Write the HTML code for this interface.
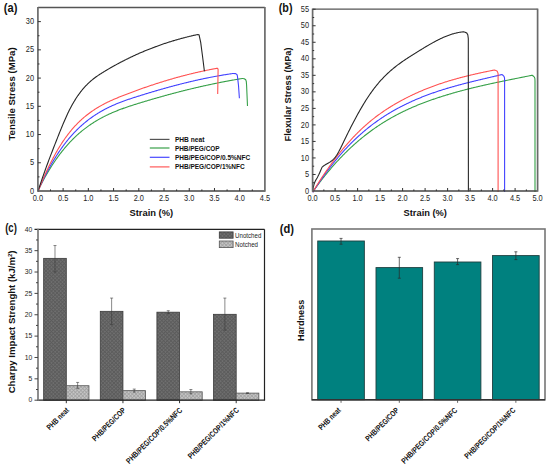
<!DOCTYPE html>
<html><head><meta charset="utf-8"><style>
html,body{margin:0;padding:0;background:#fff;}
svg{display:block;}
</style></head><body>
<svg width="550" height="467" viewBox="0 0 550 467">
<rect width="550" height="467" fill="#fff"/>
<g font-family='"Liberation Sans", sans-serif'>
<path transform="translate(0,0.50)" d="M38.00,190.06 L38.67,188.71 L39.33,187.38 L40.00,186.06 L40.66,184.76 L41.33,183.47 L42.00,182.21 L42.66,180.95 L43.33,179.72 L44.00,178.49 L44.66,177.29 L45.33,176.10 L45.99,174.92 L46.66,173.76 L47.33,172.62 L47.99,171.49 L48.66,170.37 L49.32,169.27 L49.99,168.18 L50.66,167.11 L51.32,166.05 L51.99,165.01 L52.65,163.98 L53.32,162.97 L53.99,161.96 L54.65,160.97 L55.32,160.00 L55.99,159.04 L56.65,158.09 L57.32,157.15 L57.98,156.23 L58.65,155.32 L59.32,154.42 L59.98,153.53 L60.65,152.66 L61.31,151.80 L61.98,150.95 L62.65,150.11 L63.31,149.29 L63.98,148.48 L64.64,147.67 L65.31,146.88 L65.98,146.10 L66.64,145.34 L67.31,144.58 L67.98,143.83 L68.64,143.10 L69.31,142.37 L69.97,141.66 L70.64,140.96 L71.31,140.26 L71.97,139.58 L72.64,138.90 L73.30,138.24 L73.97,137.59 L74.64,136.94 L75.30,136.31 L75.97,135.68 L76.64,135.07 L77.30,134.46 L77.97,133.86 L78.63,133.27 L79.30,132.69 L79.97,132.12 L80.63,131.55 L81.30,131.00 L81.96,130.45 L82.63,129.91 L83.30,129.37 L83.96,128.85 L84.63,128.33 L85.29,127.82 L85.96,127.32 L86.63,126.83 L87.29,126.34 L87.96,125.86 L88.63,125.38 L89.29,124.92 L89.96,124.46 L90.62,124.00 L91.29,123.55 L91.96,123.11 L92.62,122.67 L93.29,122.24 L93.95,121.82 L94.62,121.40 L95.29,120.99 L95.95,120.58 L96.62,120.18 L97.29,119.79 L97.95,119.40 L98.62,119.01 L99.28,118.63 L99.95,118.26 L100.62,117.89 L101.28,117.53 L101.95,117.17 L102.61,116.82 L103.28,116.47 L103.95,116.13 L104.61,115.79 L105.28,115.45 L105.94,115.12 L106.61,114.80 L107.28,114.47 L107.94,114.16 L108.61,113.85 L109.28,113.54 L109.94,113.23 L110.61,112.93 L111.27,112.64 L111.94,112.34 L112.61,112.05 L113.27,111.77 L113.94,111.49 L114.60,111.21 L115.27,110.93 L115.94,110.66 L116.60,110.39 L117.27,110.13 L117.93,109.87 L118.60,109.61 L119.27,109.35 L119.93,109.10 L120.60,108.85 L121.27,108.60 L121.93,108.36 L122.60,108.11 L123.26,107.87 L123.93,107.63 L124.60,107.40 L125.26,107.17 L125.93,106.93 L126.59,106.71 L127.26,106.48 L127.93,106.25 L128.59,106.03 L129.26,105.81 L129.93,105.59 L130.59,105.37 L131.26,105.15 L131.92,104.94 L132.59,104.72 L133.26,104.51 L133.92,104.30 L134.59,104.09 L135.25,103.88 L135.92,103.67 L136.59,103.46 L137.25,103.25 L137.92,103.05 L138.58,102.84 L139.25,102.64 L139.92,102.43 L140.58,102.23 L141.25,102.02 L141.92,101.82 L142.58,101.62 L143.25,101.41 L143.91,101.21 L144.58,101.01 L145.25,100.81 L145.91,100.61 L146.58,100.41 L147.24,100.21 L147.91,100.01 L148.58,99.82 L149.24,99.62 L149.91,99.42 L150.57,99.23 L151.24,99.03 L151.91,98.83 L152.57,98.64 L153.24,98.45 L153.91,98.25 L154.57,98.06 L155.24,97.87 L155.90,97.67 L156.57,97.48 L157.24,97.29 L157.90,97.10 L158.57,96.91 L159.23,96.72 L159.90,96.53 L160.57,96.35 L161.23,96.16 L161.90,95.97 L162.57,95.79 L163.23,95.60 L163.90,95.42 L164.56,95.23 L165.23,95.05 L165.90,94.86 L166.56,94.68 L167.23,94.50 L167.89,94.32 L168.56,94.14 L169.23,93.96 L169.89,93.78 L170.56,93.60 L171.22,93.42 L171.89,93.24 L172.56,93.06 L173.22,92.88 L173.89,92.71 L174.56,92.53 L175.22,92.36 L175.89,92.18 L176.55,92.01 L177.22,91.84 L177.89,91.66 L178.55,91.49 L179.22,91.32 L179.88,91.15 L180.55,90.98 L181.22,90.81 L181.88,90.64 L182.55,90.47 L183.21,90.30 L183.88,90.13 L184.55,89.97 L185.21,89.80 L185.88,89.64 L186.55,89.47 L187.21,89.31 L187.88,89.14 L188.54,88.98 L189.21,88.82 L189.88,88.66 L190.54,88.50 L191.21,88.33 L191.87,88.17 L192.54,88.02 L193.21,87.86 L193.87,87.70 L194.54,87.54 L195.21,87.38 L195.87,87.23 L196.54,87.07 L197.20,86.92 L197.87,86.76 L198.54,86.61 L199.20,86.46 L199.87,86.31 L200.53,86.15 L201.20,86.00 L201.87,85.85 L202.53,85.70 L203.20,85.55 L203.86,85.41 L204.53,85.26 L205.20,85.11 L205.86,84.96 L206.53,84.82 L207.20,84.67 L207.86,84.53 L208.53,84.39 L209.19,84.24 L209.86,84.10 L210.53,83.96 L211.19,83.82 L211.86,83.68 L212.52,83.54 L213.19,83.40 L213.86,83.26 L214.52,83.12 L215.19,82.99 L215.86,82.85 L216.52,82.71 L217.19,82.58 L217.85,82.44 L218.52,82.31 L219.19,82.18 L219.85,82.04 L220.52,81.91 L221.18,81.78 L221.85,81.65 L222.52,81.52 L223.18,81.39 L223.85,81.27 L224.51,81.14 L225.18,81.01 L225.85,80.89 L226.51,80.76 L227.18,80.64 L227.85,80.51 L228.51,80.39 L229.18,80.27 L229.84,80.14 L230.51,80.02 L231.18,79.90 L231.84,79.78 L232.51,79.66 L233.17,79.54 L233.84,79.43 L234.51,79.31 L235.17,79.19 L235.84,79.08 L236.50,78.96 L237.17,78.85 L237.84,78.74 L238.50,78.62 L239.17,78.51 L239.84,78.40 L240.50,78.29 L241.17,78.18 L241.83,78.07 L242.50,77.96 L244.30,78.20 L245.70,79.20 L246.30,81.00 L246.60,85.00 L247.50,105.60" fill="none" stroke="#36a048" stroke-width="1.10" stroke-linejoin="round"/>
<path transform="translate(0,0.50)" d="M38.00,190.52 L38.67,189.01 L39.33,187.53 L40.00,186.06 L40.66,184.61 L41.33,183.17 L42.00,181.76 L42.66,180.36 L43.33,178.99 L43.99,177.63 L44.66,176.28 L45.32,174.96 L45.99,173.65 L46.66,172.36 L47.32,171.09 L47.99,169.83 L48.65,168.59 L49.32,167.37 L49.99,166.16 L50.65,164.97 L51.32,163.80 L51.98,162.64 L52.65,161.50 L53.32,160.37 L53.98,159.26 L54.65,158.17 L55.31,157.09 L55.98,156.02 L56.64,154.97 L57.31,153.94 L57.98,152.91 L58.64,151.91 L59.31,150.92 L59.97,149.94 L60.64,148.97 L61.31,148.03 L61.97,147.09 L62.64,146.17 L63.30,145.26 L63.97,144.36 L64.63,143.48 L65.30,142.61 L65.97,141.75 L66.63,140.91 L67.30,140.08 L67.96,139.26 L68.63,138.45 L69.30,137.66 L69.96,136.87 L70.63,136.10 L71.29,135.34 L71.96,134.59 L72.63,133.86 L73.29,133.13 L73.96,132.42 L74.62,131.71 L75.29,131.02 L75.95,130.34 L76.62,129.66 L77.29,129.00 L77.95,128.35 L78.62,127.71 L79.28,127.08 L79.95,126.46 L80.62,125.84 L81.28,125.24 L81.95,124.65 L82.61,124.06 L83.28,123.48 L83.95,122.92 L84.61,122.36 L85.28,121.81 L85.94,121.27 L86.61,120.73 L87.27,120.21 L87.94,119.69 L88.61,119.18 L89.27,118.68 L89.94,118.18 L90.60,117.69 L91.27,117.21 L91.94,116.74 L92.60,116.27 L93.27,115.81 L93.93,115.36 L94.60,114.91 L95.26,114.47 L95.93,114.04 L96.60,113.61 L97.26,113.19 L97.93,112.78 L98.59,112.37 L99.26,111.97 L99.93,111.57 L100.59,111.18 L101.26,110.79 L101.92,110.42 L102.59,110.04 L103.26,109.67 L103.92,109.31 L104.59,108.95 L105.25,108.60 L105.92,108.26 L106.58,107.91 L107.25,107.58 L107.92,107.24 L108.58,106.92 L109.25,106.60 L109.91,106.28 L110.58,105.96 L111.25,105.65 L111.91,105.35 L112.58,105.05 L113.24,104.75 L113.91,104.46 L114.58,104.17 L115.24,103.89 L115.91,103.60 L116.57,103.33 L117.24,103.05 L117.90,102.78 L118.57,102.52 L119.24,102.25 L119.90,101.99 L120.57,101.73 L121.23,101.48 L121.90,101.23 L122.57,100.98 L123.23,100.73 L123.90,100.49 L124.56,100.25 L125.23,100.01 L125.89,99.77 L126.56,99.54 L127.23,99.31 L127.89,99.08 L128.56,98.85 L129.22,98.62 L129.89,98.40 L130.56,98.18 L131.22,97.96 L131.89,97.74 L132.55,97.52 L133.22,97.30 L133.89,97.09 L134.55,96.87 L135.22,96.66 L135.88,96.45 L136.55,96.24 L137.21,96.03 L137.88,95.82 L138.55,95.61 L139.21,95.40 L139.88,95.19 L140.54,94.98 L141.21,94.77 L141.88,94.57 L142.54,94.36 L143.21,94.16 L143.87,93.95 L144.54,93.75 L145.21,93.54 L145.87,93.34 L146.54,93.13 L147.20,92.93 L147.87,92.73 L148.53,92.53 L149.20,92.33 L149.87,92.13 L150.53,91.93 L151.20,91.73 L151.86,91.53 L152.53,91.33 L153.20,91.13 L153.86,90.94 L154.53,90.74 L155.19,90.54 L155.86,90.35 L156.52,90.15 L157.19,89.96 L157.86,89.77 L158.52,89.57 L159.19,89.38 L159.85,89.19 L160.52,89.00 L161.19,88.81 L161.85,88.62 L162.52,88.43 L163.18,88.24 L163.85,88.05 L164.52,87.87 L165.18,87.68 L165.85,87.50 L166.51,87.31 L167.18,87.13 L167.84,86.94 L168.51,86.76 L169.18,86.58 L169.84,86.40 L170.51,86.22 L171.17,86.04 L171.84,85.86 L172.51,85.68 L173.17,85.50 L173.84,85.32 L174.50,85.14 L175.17,84.97 L175.84,84.79 L176.50,84.62 L177.17,84.45 L177.83,84.27 L178.50,84.10 L179.16,83.93 L179.83,83.76 L180.50,83.59 L181.16,83.42 L181.83,83.25 L182.49,83.08 L183.16,82.92 L183.83,82.75 L184.49,82.59 L185.16,82.42 L185.82,82.26 L186.49,82.10 L187.15,81.93 L187.82,81.77 L188.49,81.61 L189.15,81.45 L189.82,81.29 L190.48,81.14 L191.15,80.98 L191.82,80.82 L192.48,80.67 L193.15,80.51 L193.81,80.36 L194.48,80.21 L195.15,80.06 L195.81,79.90 L196.48,79.75 L197.14,79.61 L197.81,79.46 L198.47,79.31 L199.14,79.16 L199.81,79.02 L200.47,78.87 L201.14,78.73 L201.80,78.59 L202.47,78.44 L203.14,78.30 L203.80,78.16 L204.47,78.02 L205.13,77.89 L205.80,77.75 L206.47,77.61 L207.13,77.48 L207.80,77.34 L208.46,77.21 L209.13,77.08 L209.79,76.94 L210.46,76.81 L211.13,76.68 L211.79,76.56 L212.46,76.43 L213.12,76.30 L213.79,76.18 L214.46,76.05 L215.12,75.93 L215.79,75.80 L216.45,75.68 L217.12,75.56 L217.78,75.44 L218.45,75.32 L219.12,75.21 L219.78,75.09 L220.45,74.97 L221.11,74.86 L221.78,74.75 L222.45,74.63 L223.11,74.52 L223.78,74.41 L224.44,74.30 L225.11,74.20 L225.78,74.09 L226.44,73.98 L227.11,73.88 L227.77,73.77 L228.44,73.67 L229.10,73.57 L229.77,73.47 L230.44,73.37 L231.10,73.27 L231.77,73.17 L232.43,73.08 L233.10,72.98 L235.60,73.10 L236.90,74.00 L237.40,75.40 L238.50,85.00 L239.40,97.70" fill="none" stroke="#4242ff" stroke-width="1.10" stroke-linejoin="round"/>
<path transform="translate(0,0.50)" d="M38.00,191.21 L38.67,189.49 L39.33,187.80 L40.00,186.12 L40.66,184.47 L41.33,182.85 L42.00,181.24 L42.66,179.66 L43.33,178.09 L43.99,176.55 L44.66,175.03 L45.33,173.53 L45.99,172.06 L46.66,170.60 L47.32,169.16 L47.99,167.74 L48.66,166.35 L49.32,164.97 L49.99,163.62 L50.65,162.28 L51.32,160.96 L51.99,159.67 L52.65,158.39 L53.32,157.13 L53.99,155.89 L54.65,154.67 L55.32,153.46 L55.98,152.28 L56.65,151.11 L57.32,149.97 L57.98,148.84 L58.65,147.72 L59.31,146.63 L59.98,145.55 L60.65,144.49 L61.31,143.45 L61.98,142.42 L62.64,141.42 L63.31,140.42 L63.98,139.45 L64.64,138.49 L65.31,137.55 L65.97,136.62 L66.64,135.71 L67.31,134.81 L67.97,133.93 L68.64,133.07 L69.30,132.22 L69.97,131.39 L70.64,130.57 L71.30,129.76 L71.97,128.97 L72.63,128.20 L73.30,127.43 L73.97,126.68 L74.63,125.95 L75.30,125.23 L75.96,124.52 L76.63,123.82 L77.30,123.14 L77.96,122.47 L78.63,121.81 L79.29,121.16 L79.96,120.52 L80.63,119.90 L81.29,119.28 L81.96,118.68 L82.62,118.09 L83.29,117.51 L83.96,116.94 L84.62,116.37 L85.29,115.82 L85.96,115.28 L86.62,114.75 L87.29,114.22 L87.95,113.71 L88.62,113.20 L89.29,112.70 L89.95,112.21 L90.62,111.73 L91.28,111.26 L91.95,110.79 L92.62,110.33 L93.28,109.88 L93.95,109.44 L94.61,109.00 L95.28,108.57 L95.95,108.15 L96.61,107.73 L97.28,107.32 L97.94,106.92 L98.61,106.52 L99.28,106.13 L99.94,105.74 L100.61,105.36 L101.27,104.99 L101.94,104.62 L102.61,104.26 L103.27,103.90 L103.94,103.55 L104.60,103.20 L105.27,102.86 L105.94,102.53 L106.60,102.19 L107.27,101.86 L107.93,101.54 L108.60,101.22 L109.27,100.91 L109.93,100.60 L110.60,100.29 L111.26,99.98 L111.93,99.68 L112.60,99.39 L113.26,99.09 L113.93,98.80 L114.60,98.51 L115.26,98.23 L115.93,97.95 L116.59,97.67 L117.26,97.39 L117.93,97.12 L118.59,96.84 L119.26,96.57 L119.92,96.31 L120.59,96.04 L121.26,95.77 L121.92,95.51 L122.59,95.25 L123.25,94.99 L123.92,94.73 L124.59,94.47 L125.25,94.21 L125.92,93.95 L126.58,93.70 L127.25,93.44 L127.92,93.19 L128.58,92.93 L129.25,92.68 L129.91,92.43 L130.58,92.18 L131.25,91.93 L131.91,91.68 L132.58,91.43 L133.24,91.18 L133.91,90.93 L134.58,90.69 L135.24,90.44 L135.91,90.20 L136.57,89.96 L137.24,89.71 L137.91,89.47 L138.57,89.23 L139.24,88.99 L139.90,88.75 L140.57,88.52 L141.24,88.28 L141.90,88.04 L142.57,87.81 L143.24,87.57 L143.90,87.34 L144.57,87.11 L145.23,86.88 L145.90,86.65 L146.57,86.42 L147.23,86.19 L147.90,85.96 L148.56,85.74 L149.23,85.51 L149.90,85.28 L150.56,85.06 L151.23,84.84 L151.89,84.62 L152.56,84.40 L153.23,84.18 L153.89,83.96 L154.56,83.74 L155.22,83.52 L155.89,83.30 L156.56,83.09 L157.22,82.88 L157.89,82.66 L158.55,82.45 L159.22,82.24 L159.89,82.03 L160.55,81.82 L161.22,81.61 L161.88,81.40 L162.55,81.20 L163.22,80.99 L163.88,80.79 L164.55,80.58 L165.21,80.38 L165.88,80.18 L166.55,79.98 L167.21,79.78 L167.88,79.58 L168.54,79.38 L169.21,79.18 L169.88,78.99 L170.54,78.79 L171.21,78.60 L171.88,78.41 L172.54,78.22 L173.21,78.03 L173.87,77.84 L174.54,77.65 L175.21,77.46 L175.87,77.27 L176.54,77.09 L177.20,76.90 L177.87,76.72 L178.54,76.54 L179.20,76.36 L179.87,76.18 L180.53,76.00 L181.20,75.82 L181.87,75.64 L182.53,75.46 L183.20,75.29 L183.86,75.11 L184.53,74.94 L185.20,74.77 L185.86,74.60 L186.53,74.43 L187.19,74.26 L187.86,74.09 L188.53,73.92 L189.19,73.76 L189.86,73.59 L190.52,73.43 L191.19,73.27 L191.86,73.11 L192.52,72.95 L193.19,72.79 L193.85,72.63 L194.52,72.47 L195.19,72.31 L195.85,72.16 L196.52,72.00 L197.18,71.85 L197.85,71.70 L198.52,71.55 L199.18,71.40 L199.85,71.25 L200.51,71.10 L201.18,70.96 L201.85,70.81 L202.51,70.67 L203.18,70.52 L203.85,70.38 L204.51,70.24 L205.18,70.10 L205.84,69.96 L206.51,69.82 L207.18,69.69 L207.84,69.55 L208.51,69.42 L209.17,69.28 L209.84,69.15 L210.51,69.02 L211.17,68.89 L211.84,68.76 L212.50,68.63 L213.17,68.51 L213.84,68.38 L214.50,68.26 L215.17,68.14 L215.83,68.01 L216.50,67.89 L217.60,67.80 L218.10,69.00 L217.70,93.40" fill="none" stroke="#ff5252" stroke-width="1.10" stroke-linejoin="round"/>
<path transform="translate(0,0.30)" d="M38.00,190.95 L38.67,188.88 L39.33,186.83 L40.00,184.81 L40.66,182.81 L41.33,180.84 L41.99,178.88 L42.66,176.95 L43.32,175.04 L43.99,173.15 L44.65,171.27 L45.32,169.42 L45.98,167.58 L46.65,165.75 L47.32,163.95 L47.98,162.15 L48.65,160.37 L49.31,158.60 L49.98,156.84 L50.64,155.10 L51.31,153.36 L51.97,151.63 L52.64,149.91 L53.30,148.20 L53.97,146.49 L54.64,144.79 L55.30,143.10 L55.97,141.40 L56.63,139.71 L57.30,138.03 L57.96,136.34 L58.63,134.67 L59.29,133.00 L59.96,131.34 L60.62,129.69 L61.29,128.05 L61.95,126.43 L62.62,124.83 L63.29,123.24 L63.95,121.68 L64.62,120.13 L65.28,118.61 L65.95,117.11 L66.61,115.64 L67.28,114.20 L67.94,112.78 L68.61,111.40 L69.27,110.05 L69.94,108.74 L70.61,107.45 L71.27,106.20 L71.94,104.97 L72.60,103.78 L73.27,102.62 L73.93,101.49 L74.60,100.38 L75.26,99.30 L75.93,98.25 L76.59,97.23 L77.26,96.24 L77.92,95.26 L78.59,94.32 L79.26,93.40 L79.92,92.50 L80.59,91.63 L81.25,90.78 L81.92,89.95 L82.58,89.14 L83.25,88.36 L83.91,87.59 L84.58,86.85 L85.24,86.13 L85.91,85.42 L86.58,84.73 L87.24,84.06 L87.91,83.41 L88.57,82.78 L89.24,82.16 L89.90,81.55 L90.57,80.96 L91.23,80.39 L91.90,79.83 L92.56,79.28 L93.23,78.75 L93.89,78.23 L94.56,77.72 L95.23,77.22 L95.89,76.73 L96.56,76.25 L97.22,75.78 L97.89,75.32 L98.55,74.87 L99.22,74.42 L99.88,73.99 L100.55,73.55 L101.21,73.13 L101.88,72.71 L102.55,72.30 L103.21,71.88 L103.88,71.48 L104.54,71.08 L105.21,70.67 L105.87,70.28 L106.54,69.88 L107.20,69.49 L107.87,69.09 L108.53,68.70 L109.20,68.32 L109.86,67.93 L110.53,67.55 L111.20,67.17 L111.86,66.79 L112.53,66.41 L113.19,66.04 L113.86,65.67 L114.52,65.30 L115.19,64.93 L115.85,64.56 L116.52,64.20 L117.18,63.84 L117.85,63.48 L118.52,63.12 L119.18,62.77 L119.85,62.41 L120.51,62.06 L121.18,61.71 L121.84,61.37 L122.51,61.02 L123.17,60.68 L123.84,60.34 L124.50,60.00 L125.17,59.66 L125.83,59.33 L126.50,59.00 L127.17,58.67 L127.83,58.34 L128.50,58.01 L129.16,57.69 L129.83,57.37 L130.49,57.05 L131.16,56.73 L131.82,56.42 L132.49,56.10 L133.15,55.79 L133.82,55.48 L134.49,55.17 L135.15,54.87 L135.82,54.56 L136.48,54.26 L137.15,53.96 L137.81,53.66 L138.48,53.37 L139.14,53.07 L139.81,52.78 L140.47,52.49 L141.14,52.20 L141.81,51.92 L142.47,51.63 L143.14,51.35 L143.80,51.07 L144.47,50.79 L145.13,50.51 L145.80,50.24 L146.46,49.97 L147.13,49.70 L147.79,49.43 L148.46,49.16 L149.12,48.89 L149.79,48.63 L150.46,48.37 L151.12,48.11 L151.79,47.85 L152.45,47.59 L153.12,47.34 L153.78,47.09 L154.45,46.84 L155.11,46.59 L155.78,46.34 L156.44,46.10 L157.11,45.85 L157.77,45.61 L158.44,45.37 L159.11,45.14 L159.77,44.90 L160.44,44.67 L161.10,44.43 L161.77,44.20 L162.43,43.97 L163.10,43.75 L163.76,43.52 L164.43,43.30 L165.09,43.07 L165.76,42.85 L166.43,42.64 L167.09,42.42 L167.76,42.20 L168.42,41.99 L169.09,41.78 L169.75,41.57 L170.42,41.36 L171.08,41.16 L171.75,40.95 L172.41,40.75 L173.08,40.55 L173.75,40.35 L174.41,40.15 L175.08,39.95 L175.74,39.76 L176.41,39.56 L177.07,39.37 L177.74,39.18 L178.40,38.99 L179.07,38.81 L179.73,38.62 L180.40,38.44 L181.06,38.26 L181.73,38.08 L182.40,37.90 L183.06,37.72 L183.73,37.55 L184.39,37.37 L185.06,37.20 L185.72,37.03 L186.39,36.86 L187.05,36.70 L187.72,36.53 L188.38,36.37 L189.05,36.20 L189.72,36.04 L190.38,35.88 L191.05,35.72 L191.71,35.57 L192.38,35.41 L193.04,35.26 L193.71,35.11 L194.37,34.96 L195.04,34.81 L195.70,34.66 L196.37,34.51 L197.03,34.37 L197.70,34.23 L199.00,34.40 L200.70,42.10 L202.40,55.00 L204.40,71.00" fill="none" stroke="#262626" stroke-width="1.10" stroke-linejoin="round"/>
<line x1="37.90" y1="7.50" x2="264.90" y2="7.50" stroke="#555" stroke-width="1.30"/>
<line x1="37.90" y1="191.00" x2="264.90" y2="191.00" stroke="#444" stroke-width="1.40"/>
<line x1="37.90" y1="6.90" x2="37.90" y2="191.70" stroke="#6a6a6a" stroke-width="1.70"/>
<line x1="264.90" y1="6.90" x2="264.90" y2="191.70" stroke="#6a6a6a" stroke-width="1.70"/>
<text x="37.90" y="200.80" font-size="8.60" text-anchor="middle" font-weight="normal" fill="#1e1e1e" textLength="10.29" lengthAdjust="spacingAndGlyphs">0.0</text>
<line x1="50.51" y1="191.00" x2="50.51" y2="189.40" stroke="#333" stroke-width="1.00"/>
<line x1="63.12" y1="191.00" x2="63.12" y2="188.00" stroke="#333" stroke-width="1.00"/>
<text x="63.12" y="200.80" font-size="8.60" text-anchor="middle" font-weight="normal" fill="#1e1e1e" textLength="10.29" lengthAdjust="spacingAndGlyphs">0.5</text>
<line x1="75.74" y1="191.00" x2="75.74" y2="189.40" stroke="#333" stroke-width="1.00"/>
<line x1="88.35" y1="191.00" x2="88.35" y2="188.00" stroke="#333" stroke-width="1.00"/>
<text x="88.35" y="200.80" font-size="8.60" text-anchor="middle" font-weight="normal" fill="#1e1e1e" textLength="10.29" lengthAdjust="spacingAndGlyphs">1.0</text>
<line x1="100.96" y1="191.00" x2="100.96" y2="189.40" stroke="#333" stroke-width="1.00"/>
<line x1="113.58" y1="191.00" x2="113.58" y2="188.00" stroke="#333" stroke-width="1.00"/>
<text x="113.58" y="200.80" font-size="8.60" text-anchor="middle" font-weight="normal" fill="#1e1e1e" textLength="10.29" lengthAdjust="spacingAndGlyphs">1.5</text>
<line x1="126.19" y1="191.00" x2="126.19" y2="189.40" stroke="#333" stroke-width="1.00"/>
<line x1="138.80" y1="191.00" x2="138.80" y2="188.00" stroke="#333" stroke-width="1.00"/>
<text x="138.80" y="200.80" font-size="8.60" text-anchor="middle" font-weight="normal" fill="#1e1e1e" textLength="10.29" lengthAdjust="spacingAndGlyphs">2.0</text>
<line x1="151.41" y1="191.00" x2="151.41" y2="189.40" stroke="#333" stroke-width="1.00"/>
<line x1="164.03" y1="191.00" x2="164.03" y2="188.00" stroke="#333" stroke-width="1.00"/>
<text x="164.03" y="200.80" font-size="8.60" text-anchor="middle" font-weight="normal" fill="#1e1e1e" textLength="10.29" lengthAdjust="spacingAndGlyphs">2.5</text>
<line x1="176.64" y1="191.00" x2="176.64" y2="189.40" stroke="#333" stroke-width="1.00"/>
<line x1="189.25" y1="191.00" x2="189.25" y2="188.00" stroke="#333" stroke-width="1.00"/>
<text x="189.25" y="200.80" font-size="8.60" text-anchor="middle" font-weight="normal" fill="#1e1e1e" textLength="10.29" lengthAdjust="spacingAndGlyphs">3.0</text>
<line x1="201.86" y1="191.00" x2="201.86" y2="189.40" stroke="#333" stroke-width="1.00"/>
<line x1="214.48" y1="191.00" x2="214.48" y2="188.00" stroke="#333" stroke-width="1.00"/>
<text x="214.48" y="200.80" font-size="8.60" text-anchor="middle" font-weight="normal" fill="#1e1e1e" textLength="10.29" lengthAdjust="spacingAndGlyphs">3.5</text>
<line x1="227.09" y1="191.00" x2="227.09" y2="189.40" stroke="#333" stroke-width="1.00"/>
<line x1="239.70" y1="191.00" x2="239.70" y2="188.00" stroke="#333" stroke-width="1.00"/>
<text x="239.70" y="200.80" font-size="8.60" text-anchor="middle" font-weight="normal" fill="#1e1e1e" textLength="10.29" lengthAdjust="spacingAndGlyphs">4.0</text>
<line x1="252.31" y1="191.00" x2="252.31" y2="189.40" stroke="#333" stroke-width="1.00"/>
<text x="264.93" y="200.80" font-size="8.60" text-anchor="middle" font-weight="normal" fill="#1e1e1e" textLength="10.29" lengthAdjust="spacingAndGlyphs">4.5</text>
<text x="34.10" y="193.60" font-size="8.60" text-anchor="end" font-weight="normal" fill="#1e1e1e" textLength="4.11" lengthAdjust="spacingAndGlyphs">0</text>
<line x1="37.90" y1="176.88" x2="39.50" y2="176.88" stroke="#333" stroke-width="1.00"/>
<line x1="37.90" y1="162.77" x2="40.90" y2="162.77" stroke="#333" stroke-width="1.00"/>
<text x="34.10" y="165.37" font-size="8.60" text-anchor="end" font-weight="normal" fill="#1e1e1e" textLength="4.11" lengthAdjust="spacingAndGlyphs">5</text>
<line x1="37.90" y1="148.66" x2="39.50" y2="148.66" stroke="#333" stroke-width="1.00"/>
<line x1="37.90" y1="134.54" x2="40.90" y2="134.54" stroke="#333" stroke-width="1.00"/>
<text x="34.10" y="137.14" font-size="8.60" text-anchor="end" font-weight="normal" fill="#1e1e1e" textLength="8.23" lengthAdjust="spacingAndGlyphs">10</text>
<line x1="37.90" y1="120.42" x2="39.50" y2="120.42" stroke="#333" stroke-width="1.00"/>
<line x1="37.90" y1="106.31" x2="40.90" y2="106.31" stroke="#333" stroke-width="1.00"/>
<text x="34.10" y="108.91" font-size="8.60" text-anchor="end" font-weight="normal" fill="#1e1e1e" textLength="8.23" lengthAdjust="spacingAndGlyphs">15</text>
<line x1="37.90" y1="92.20" x2="39.50" y2="92.20" stroke="#333" stroke-width="1.00"/>
<line x1="37.90" y1="78.08" x2="40.90" y2="78.08" stroke="#333" stroke-width="1.00"/>
<text x="34.10" y="80.68" font-size="8.60" text-anchor="end" font-weight="normal" fill="#1e1e1e" textLength="8.23" lengthAdjust="spacingAndGlyphs">20</text>
<line x1="37.90" y1="63.97" x2="39.50" y2="63.97" stroke="#333" stroke-width="1.00"/>
<line x1="37.90" y1="49.85" x2="40.90" y2="49.85" stroke="#333" stroke-width="1.00"/>
<text x="34.10" y="52.45" font-size="8.60" text-anchor="end" font-weight="normal" fill="#1e1e1e" textLength="8.23" lengthAdjust="spacingAndGlyphs">25</text>
<line x1="37.90" y1="35.74" x2="39.50" y2="35.74" stroke="#333" stroke-width="1.00"/>
<line x1="37.90" y1="21.62" x2="40.90" y2="21.62" stroke="#333" stroke-width="1.00"/>
<text x="34.10" y="24.22" font-size="8.60" text-anchor="end" font-weight="normal" fill="#1e1e1e" textLength="8.23" lengthAdjust="spacingAndGlyphs">30</text>
<line x1="149.80" y1="139.40" x2="169.50" y2="139.40" stroke="#555" stroke-width="1.20"/>
<text x="174.90" y="141.90" font-size="7.20" text-anchor="start" font-weight="bold" fill="#111" textLength="29.50" lengthAdjust="spacingAndGlyphs">PHB neat</text>
<line x1="149.80" y1="148.00" x2="169.50" y2="148.00" stroke="#3aa04a" stroke-width="1.20"/>
<text x="174.90" y="150.50" font-size="7.20" text-anchor="start" font-weight="bold" fill="#111" textLength="44.70" lengthAdjust="spacingAndGlyphs">PHB/PEG/COP</text>
<line x1="149.80" y1="157.30" x2="169.50" y2="157.30" stroke="#4848ff" stroke-width="1.20"/>
<text x="174.90" y="159.80" font-size="7.20" text-anchor="start" font-weight="bold" fill="#111" textLength="75.30" lengthAdjust="spacingAndGlyphs">PHB/PEG/COP/0.5%NFC</text>
<line x1="149.80" y1="166.90" x2="169.50" y2="166.90" stroke="#ff5a5a" stroke-width="1.20"/>
<text x="174.90" y="169.40" font-size="7.20" text-anchor="start" font-weight="bold" fill="#111" textLength="69.80" lengthAdjust="spacingAndGlyphs">PHB/PEG/COP/1%NFC</text>
<text x="3.80" y="11.50" font-size="12.00" text-anchor="start" font-weight="bold" fill="#111" textLength="13.60" lengthAdjust="spacingAndGlyphs">(a)</text>
<text transform="translate(14.70,140.60) rotate(-90)" font-size="9.00" font-weight="bold" fill="#111111" textLength="93.20" lengthAdjust="spacingAndGlyphs">Tensile Stress (MPa)</text>
<text x="129.50" y="216.40" font-size="9.30" text-anchor="start" font-weight="bold" fill="#111" textLength="43.60" lengthAdjust="spacingAndGlyphs">Strain (%)</text>
<path transform="translate(0,0.90)" d="M312.70,191.06 L313.37,190.12 L314.03,189.19 L314.70,188.26 L315.36,187.34 L316.03,186.43 L316.69,185.52 L317.36,184.62 L318.02,183.73 L318.69,182.84 L319.35,181.95 L320.02,181.08 L320.68,180.21 L321.35,179.34 L322.01,178.49 L322.68,177.63 L323.34,176.79 L324.01,175.95 L324.67,175.11 L325.34,174.28 L326.00,173.46 L326.67,172.65 L327.33,171.83 L328.00,171.03 L328.66,170.23 L329.33,169.44 L329.99,168.65 L330.66,167.87 L331.32,167.09 L331.99,166.32 L332.65,165.55 L333.32,164.80 L333.98,164.04 L334.65,163.29 L335.32,162.55 L335.98,161.81 L336.65,161.08 L337.31,160.35 L337.98,159.63 L338.64,158.92 L339.31,158.21 L339.97,157.50 L340.64,156.80 L341.30,156.11 L341.97,155.42 L342.63,154.73 L343.30,154.05 L343.96,153.38 L344.63,152.71 L345.29,152.05 L345.96,151.39 L346.62,150.73 L347.29,150.09 L347.95,149.44 L348.62,148.80 L349.28,148.17 L349.95,147.54 L350.61,146.92 L351.28,146.30 L351.94,145.68 L352.61,145.07 L353.27,144.47 L353.94,143.87 L354.60,143.27 L355.27,142.68 L355.93,142.10 L356.60,141.51 L357.27,140.94 L357.93,140.37 L358.60,139.80 L359.26,139.24 L359.93,138.68 L360.59,138.12 L361.26,137.57 L361.92,137.03 L362.59,136.49 L363.25,135.95 L363.92,135.42 L364.58,134.89 L365.25,134.37 L365.91,133.85 L366.58,133.33 L367.24,132.82 L367.91,132.31 L368.57,131.81 L369.24,131.31 L369.90,130.82 L370.57,130.33 L371.23,129.84 L371.90,129.36 L372.56,128.88 L373.23,128.41 L373.89,127.94 L374.56,127.47 L375.22,127.01 L375.89,126.55 L376.55,126.09 L377.22,125.64 L377.88,125.19 L378.55,124.75 L379.22,124.31 L379.88,123.87 L380.55,123.44 L381.21,123.01 L381.88,122.58 L382.54,122.16 L383.21,121.74 L383.87,121.33 L384.54,120.92 L385.20,120.51 L385.87,120.11 L386.53,119.70 L387.20,119.31 L387.86,118.91 L388.53,118.52 L389.19,118.13 L389.86,117.75 L390.52,117.37 L391.19,116.99 L391.85,116.61 L392.52,116.24 L393.18,115.87 L393.85,115.51 L394.51,115.15 L395.18,114.79 L395.84,114.43 L396.51,114.08 L397.17,113.73 L397.84,113.38 L398.50,113.03 L399.17,112.69 L399.83,112.35 L400.50,112.02 L401.17,111.69 L401.83,111.36 L402.50,111.03 L403.16,110.70 L403.83,110.38 L404.49,110.06 L405.16,109.74 L405.82,109.43 L406.49,109.12 L407.15,108.81 L407.82,108.50 L408.48,108.20 L409.15,107.90 L409.81,107.60 L410.48,107.30 L411.14,107.01 L411.81,106.72 L412.47,106.43 L413.14,106.14 L413.80,105.85 L414.47,105.57 L415.13,105.29 L415.80,105.01 L416.46,104.74 L417.13,104.46 L417.79,104.19 L418.46,103.92 L419.12,103.65 L419.79,103.39 L420.45,103.13 L421.12,102.86 L421.78,102.60 L422.45,102.35 L423.12,102.09 L423.78,101.84 L424.45,101.59 L425.11,101.34 L425.78,101.09 L426.44,100.84 L427.11,100.60 L427.77,100.35 L428.44,100.11 L429.10,99.87 L429.77,99.63 L430.43,99.40 L431.10,99.16 L431.76,98.93 L432.43,98.70 L433.09,98.47 L433.76,98.24 L434.42,98.01 L435.09,97.79 L435.75,97.56 L436.42,97.34 L437.08,97.12 L437.75,96.90 L438.41,96.68 L439.08,96.46 L439.74,96.24 L440.41,96.03 L441.07,95.81 L441.74,95.60 L442.40,95.39 L443.07,95.18 L443.73,94.97 L444.40,94.77 L445.07,94.56 L445.73,94.36 L446.40,94.15 L447.06,93.95 L447.73,93.75 L448.39,93.55 L449.06,93.35 L449.72,93.15 L450.39,92.96 L451.05,92.76 L451.72,92.57 L452.38,92.38 L453.05,92.19 L453.71,91.99 L454.38,91.81 L455.04,91.62 L455.71,91.43 L456.37,91.24 L457.04,91.06 L457.70,90.88 L458.37,90.69 L459.03,90.51 L459.70,90.33 L460.36,90.15 L461.03,89.97 L461.69,89.79 L462.36,89.62 L463.02,89.44 L463.69,89.27 L464.35,89.09 L465.02,88.92 L465.68,88.75 L466.35,88.58 L467.02,88.41 L467.68,88.24 L468.35,88.07 L469.01,87.90 L469.68,87.73 L470.34,87.57 L471.01,87.40 L471.67,87.24 L472.34,87.07 L473.00,86.91 L473.67,86.75 L474.33,86.59 L475.00,86.43 L475.66,86.27 L476.33,86.11 L476.99,85.95 L477.66,85.80 L478.32,85.64 L478.99,85.48 L479.65,85.33 L480.32,85.17 L480.98,85.02 L481.65,84.87 L482.31,84.71 L482.98,84.56 L483.64,84.41 L484.31,84.26 L484.97,84.11 L485.64,83.96 L486.30,83.81 L486.97,83.66 L487.63,83.52 L488.30,83.37 L488.97,83.22 L489.63,83.08 L490.30,82.93 L490.96,82.79 L491.63,82.64 L492.29,82.50 L492.96,82.35 L493.62,82.21 L494.29,82.07 L494.95,81.93 L495.62,81.78 L496.28,81.64 L496.95,81.50 L497.61,81.36 L498.28,81.22 L498.94,81.08 L499.61,80.94 L500.27,80.80 L500.94,80.67 L501.60,80.53 L502.27,80.39 L502.93,80.25 L503.60,80.11 L504.26,79.98 L504.93,79.84 L505.59,79.70 L506.26,79.57 L506.92,79.43 L507.59,79.30 L508.25,79.16 L508.92,79.03 L509.58,78.89 L510.25,78.76 L510.92,78.62 L511.58,78.49 L512.25,78.35 L512.91,78.22 L513.58,78.08 L514.24,77.95 L514.91,77.82 L515.57,77.68 L516.24,77.55 L516.90,77.42 L517.57,77.28 L518.23,77.15 L518.90,77.02 L519.56,76.88 L520.23,76.75 L520.89,76.62 L521.56,76.48 L522.22,76.35 L522.89,76.22 L523.55,76.08 L524.22,75.95 L524.88,75.82 L525.55,75.68 L526.21,75.55 L526.88,75.42 L527.54,75.28 L528.21,75.15 L528.87,75.02 L529.54,74.88 L530.20,74.75 L530.87,74.61 L531.53,74.48 L532.20,74.35 L533.50,75.40 L534.40,76.20 L534.90,77.80 L535.00,80.00 L535.00,191.00" fill="none" stroke="#36a048" stroke-width="1.10" stroke-linejoin="round"/>
<path transform="translate(0,0.90)" d="M312.70,191.51 L313.37,190.46 L314.03,189.41 L314.70,188.37 L315.36,187.34 L316.03,186.32 L316.70,185.30 L317.36,184.29 L318.03,183.29 L318.69,182.30 L319.36,181.31 L320.02,180.33 L320.69,179.36 L321.36,178.40 L322.02,177.44 L322.69,176.49 L323.35,175.55 L324.02,174.62 L324.69,173.69 L325.35,172.77 L326.02,171.86 L326.68,170.95 L327.35,170.05 L328.01,169.16 L328.68,168.28 L329.35,167.40 L330.01,166.53 L330.68,165.67 L331.34,164.81 L332.01,163.96 L332.68,163.12 L333.34,162.28 L334.01,161.45 L334.67,160.63 L335.34,159.81 L336.00,159.00 L336.67,158.20 L337.34,157.40 L338.00,156.61 L338.67,155.83 L339.33,155.05 L340.00,154.28 L340.67,153.51 L341.33,152.75 L342.00,152.00 L342.66,151.26 L343.33,150.52 L343.99,149.78 L344.66,149.06 L345.33,148.33 L345.99,147.62 L346.66,146.91 L347.32,146.21 L347.99,145.51 L348.66,144.82 L349.32,144.13 L349.99,143.45 L350.65,142.78 L351.32,142.11 L351.98,141.44 L352.65,140.79 L353.32,140.14 L353.98,139.49 L354.65,138.85 L355.31,138.22 L355.98,137.59 L356.65,136.96 L357.31,136.34 L357.98,135.73 L358.64,135.12 L359.31,134.52 L359.98,133.92 L360.64,133.33 L361.31,132.74 L361.97,132.16 L362.64,131.58 L363.30,131.01 L363.97,130.45 L364.64,129.88 L365.30,129.33 L365.97,128.78 L366.63,128.23 L367.30,127.69 L367.97,127.15 L368.63,126.62 L369.30,126.09 L369.96,125.57 L370.63,125.05 L371.29,124.53 L371.96,124.03 L372.63,123.52 L373.29,123.02 L373.96,122.53 L374.62,122.03 L375.29,121.55 L375.96,121.06 L376.62,120.59 L377.29,120.11 L377.95,119.64 L378.62,119.18 L379.28,118.72 L379.95,118.26 L380.62,117.81 L381.28,117.36 L381.95,116.91 L382.61,116.47 L383.28,116.03 L383.95,115.60 L384.61,115.17 L385.28,114.75 L385.94,114.32 L386.61,113.91 L387.27,113.49 L387.94,113.08 L388.61,112.67 L389.27,112.27 L389.94,111.87 L390.60,111.48 L391.27,111.08 L391.94,110.69 L392.60,110.31 L393.27,109.93 L393.93,109.55 L394.60,109.17 L395.26,108.80 L395.93,108.43 L396.60,108.06 L397.26,107.70 L397.93,107.34 L398.59,106.98 L399.26,106.63 L399.93,106.28 L400.59,105.93 L401.26,105.59 L401.92,105.25 L402.59,104.91 L403.25,104.57 L403.92,104.24 L404.59,103.91 L405.25,103.58 L405.92,103.25 L406.58,102.93 L407.25,102.61 L407.92,102.29 L408.58,101.98 L409.25,101.67 L409.91,101.36 L410.58,101.05 L411.25,100.75 L411.91,100.45 L412.58,100.15 L413.24,99.85 L413.91,99.55 L414.57,99.26 L415.24,98.97 L415.91,98.68 L416.57,98.40 L417.24,98.12 L417.90,97.84 L418.57,97.56 L419.24,97.28 L419.90,97.01 L420.57,96.74 L421.23,96.47 L421.90,96.20 L422.56,95.94 L423.23,95.67 L423.90,95.41 L424.56,95.15 L425.23,94.90 L425.89,94.64 L426.56,94.39 L427.23,94.14 L427.89,93.89 L428.56,93.64 L429.22,93.40 L429.89,93.16 L430.55,92.92 L431.22,92.68 L431.89,92.44 L432.55,92.20 L433.22,91.97 L433.88,91.74 L434.55,91.51 L435.22,91.28 L435.88,91.06 L436.55,90.83 L437.21,90.61 L437.88,90.39 L438.54,90.17 L439.21,89.95 L439.88,89.73 L440.54,89.52 L441.21,89.30 L441.87,89.09 L442.54,88.88 L443.21,88.67 L443.87,88.47 L444.54,88.26 L445.20,88.06 L445.87,87.85 L446.53,87.65 L447.20,87.45 L447.87,87.25 L448.53,87.05 L449.20,86.86 L449.86,86.66 L450.53,86.47 L451.20,86.28 L451.86,86.09 L452.53,85.90 L453.19,85.71 L453.86,85.52 L454.52,85.33 L455.19,85.15 L455.86,84.96 L456.52,84.78 L457.19,84.60 L457.85,84.42 L458.52,84.23 L459.19,84.06 L459.85,83.88 L460.52,83.70 L461.18,83.52 L461.85,83.35 L462.52,83.17 L463.18,83.00 L463.85,82.83 L464.51,82.65 L465.18,82.48 L465.84,82.31 L466.51,82.14 L467.18,81.97 L467.84,81.81 L468.51,81.64 L469.17,81.47 L469.84,81.30 L470.51,81.14 L471.17,80.97 L471.84,80.81 L472.50,80.64 L473.17,80.48 L473.83,80.32 L474.50,80.16 L475.17,79.99 L475.83,79.83 L476.50,79.67 L477.16,79.51 L477.83,79.35 L478.50,79.19 L479.16,79.03 L479.83,78.87 L480.49,78.71 L481.16,78.55 L481.82,78.40 L482.49,78.24 L483.16,78.08 L483.82,77.92 L484.49,77.76 L485.15,77.61 L485.82,77.45 L486.49,77.29 L487.15,77.14 L487.82,76.98 L488.48,76.82 L489.15,76.67 L489.81,76.51 L490.48,76.35 L491.15,76.19 L491.81,76.04 L492.48,75.88 L493.14,75.72 L493.81,75.57 L494.48,75.41 L495.14,75.25 L495.81,75.09 L496.47,74.94 L497.14,74.78 L497.80,74.62 L498.47,74.46 L499.14,74.30 L499.80,74.14 L500.47,73.98 L501.13,73.82 L501.80,73.66 L503.00,74.40 L504.00,75.40 L504.50,77.00 L504.60,79.00 L504.60,191.00" fill="none" stroke="#4242ff" stroke-width="1.10" stroke-linejoin="round"/>
<path transform="translate(0,0.90)" d="M312.70,191.23 L313.37,190.13 L314.03,189.03 L314.70,187.94 L315.36,186.86 L316.03,185.78 L316.70,184.71 L317.36,183.65 L318.03,182.59 L318.69,181.54 L319.36,180.50 L320.03,179.47 L320.69,178.44 L321.36,177.42 L322.02,176.41 L322.69,175.40 L323.35,174.40 L324.02,173.41 L324.69,172.42 L325.35,171.44 L326.02,170.47 L326.68,169.50 L327.35,168.54 L328.02,167.59 L328.68,166.65 L329.35,165.71 L330.01,164.78 L330.68,163.85 L331.35,162.93 L332.01,162.02 L332.68,161.12 L333.34,160.22 L334.01,159.33 L334.68,158.44 L335.34,157.56 L336.01,156.69 L336.67,155.83 L337.34,154.97 L338.01,154.12 L338.67,153.27 L339.34,152.43 L340.00,151.60 L340.67,150.77 L341.34,149.96 L342.00,149.14 L342.67,148.34 L343.33,147.54 L344.00,146.74 L344.66,145.96 L345.33,145.17 L346.00,144.40 L346.66,143.63 L347.33,142.87 L347.99,142.12 L348.66,141.37 L349.33,140.62 L349.99,139.89 L350.66,139.16 L351.32,138.43 L351.99,137.72 L352.66,137.01 L353.32,136.30 L353.99,135.60 L354.65,134.91 L355.32,134.22 L355.99,133.54 L356.65,132.87 L357.32,132.20 L357.98,131.54 L358.65,130.88 L359.32,130.23 L359.98,129.59 L360.65,128.95 L361.31,128.32 L361.98,127.69 L362.65,127.07 L363.31,126.46 L363.98,125.85 L364.64,125.25 L365.31,124.66 L365.97,124.07 L366.64,123.48 L367.31,122.90 L367.97,122.33 L368.64,121.76 L369.30,121.20 L369.97,120.65 L370.64,120.10 L371.30,119.55 L371.97,119.01 L372.63,118.48 L373.30,117.95 L373.97,117.43 L374.63,116.91 L375.30,116.40 L375.96,115.89 L376.63,115.38 L377.30,114.88 L377.96,114.39 L378.63,113.90 L379.29,113.42 L379.96,112.94 L380.63,112.46 L381.29,111.99 L381.96,111.53 L382.62,111.07 L383.29,110.61 L383.95,110.15 L384.62,109.71 L385.29,109.26 L385.95,108.82 L386.62,108.38 L387.28,107.95 L387.95,107.52 L388.62,107.10 L389.28,106.68 L389.95,106.26 L390.61,105.85 L391.28,105.44 L391.95,105.03 L392.61,104.63 L393.28,104.23 L393.94,103.84 L394.61,103.44 L395.28,103.05 L395.94,102.67 L396.61,102.28 L397.27,101.91 L397.94,101.53 L398.61,101.16 L399.27,100.78 L399.94,100.42 L400.60,100.05 L401.27,99.69 L401.94,99.33 L402.60,98.97 L403.27,98.62 L403.93,98.27 L404.60,97.92 L405.26,97.57 L405.93,97.23 L406.60,96.89 L407.26,96.55 L407.93,96.22 L408.59,95.89 L409.26,95.56 L409.93,95.23 L410.59,94.91 L411.26,94.58 L411.92,94.26 L412.59,93.95 L413.26,93.63 L413.92,93.32 L414.59,93.01 L415.25,92.71 L415.92,92.40 L416.59,92.10 L417.25,91.80 L417.92,91.50 L418.58,91.21 L419.25,90.92 L419.92,90.63 L420.58,90.34 L421.25,90.05 L421.91,89.77 L422.58,89.49 L423.25,89.21 L423.91,88.94 L424.58,88.66 L425.24,88.39 L425.91,88.12 L426.57,87.85 L427.24,87.59 L427.91,87.33 L428.57,87.06 L429.24,86.81 L429.90,86.55 L430.57,86.30 L431.24,86.04 L431.90,85.79 L432.57,85.54 L433.23,85.30 L433.90,85.05 L434.57,84.81 L435.23,84.57 L435.90,84.33 L436.56,84.10 L437.23,83.86 L437.90,83.63 L438.56,83.40 L439.23,83.17 L439.89,82.94 L440.56,82.72 L441.23,82.50 L441.89,82.27 L442.56,82.05 L443.22,81.84 L443.89,81.62 L444.55,81.41 L445.22,81.19 L445.89,80.98 L446.55,80.77 L447.22,80.57 L447.88,80.36 L448.55,80.16 L449.22,79.95 L449.88,79.75 L450.55,79.55 L451.21,79.36 L451.88,79.16 L452.55,78.96 L453.21,78.77 L453.88,78.58 L454.54,78.39 L455.21,78.20 L455.88,78.01 L456.54,77.83 L457.21,77.64 L457.87,77.46 L458.54,77.28 L459.21,77.10 L459.87,76.92 L460.54,76.74 L461.20,76.57 L461.87,76.39 L462.54,76.22 L463.20,76.05 L463.87,75.88 L464.53,75.71 L465.20,75.54 L465.86,75.37 L466.53,75.20 L467.20,75.04 L467.86,74.88 L468.53,74.71 L469.19,74.55 L469.86,74.39 L470.53,74.23 L471.19,74.07 L471.86,73.92 L472.52,73.76 L473.19,73.61 L473.86,73.45 L474.52,73.30 L475.19,73.15 L475.85,73.00 L476.52,72.85 L477.19,72.70 L477.85,72.55 L478.52,72.40 L479.18,72.26 L479.85,72.11 L480.52,71.97 L481.18,71.82 L481.85,71.68 L482.51,71.54 L483.18,71.39 L483.85,71.25 L484.51,71.11 L485.18,70.97 L485.84,70.84 L486.51,70.70 L487.17,70.56 L487.84,70.42 L488.51,70.29 L489.17,70.15 L489.84,70.02 L490.50,69.89 L491.17,69.75 L491.84,69.62 L492.50,69.49 L493.17,69.36 L493.83,69.22 L494.50,69.09 L495.80,69.50 L497.20,70.40 L498.00,72.20 L498.10,74.00 L498.10,191.00" fill="none" stroke="#ff5252" stroke-width="1.10" stroke-linejoin="round"/>
<path transform="translate(0,0.50)" d="M312.70,190.00 L313.33,186.55 L313.95,184.02 L314.58,182.19 L315.21,180.79 L315.83,179.61 L316.46,178.55 L317.09,177.49 L317.71,176.35 L318.34,175.10 L318.97,173.78 L319.59,172.40 L320.22,170.98 L320.85,169.54 L321.47,168.10 L322.10,166.64 L322.76,166.07 L323.43,165.55 L324.09,165.08 L324.76,164.63 L325.42,164.22 L326.08,163.82 L326.75,163.44 L327.41,163.06 L328.07,162.68 L328.74,162.30 L329.40,161.90 L330.07,161.48 L330.73,161.04 L331.39,160.56 L332.06,160.04 L332.72,159.47 L333.39,158.85 L334.05,158.17 L334.71,157.42 L335.38,156.59 L336.04,155.69 L336.70,154.70 L337.37,153.64 L338.03,152.51 L338.70,151.32 L339.36,150.08 L340.02,148.79 L340.69,147.47 L341.35,146.11 L342.02,144.74 L342.68,143.35 L343.34,141.96 L344.01,140.57 L344.67,139.19 L345.33,137.81 L346.00,136.44 L346.66,135.08 L347.33,133.73 L347.99,132.38 L348.65,131.05 L349.32,129.72 L349.98,128.40 L350.65,127.09 L351.31,125.79 L351.97,124.49 L352.64,123.21 L353.30,121.94 L353.96,120.67 L354.63,119.42 L355.29,118.18 L355.96,116.95 L356.62,115.72 L357.28,114.51 L357.95,113.31 L358.61,112.12 L359.28,110.95 L359.94,109.78 L360.60,108.63 L361.27,107.48 L361.93,106.35 L362.59,105.23 L363.26,104.13 L363.92,103.03 L364.59,101.95 L365.25,100.89 L365.91,99.83 L366.58,98.79 L367.24,97.77 L367.91,96.75 L368.57,95.75 L369.23,94.77 L369.90,93.80 L370.56,92.84 L371.22,91.90 L371.89,90.97 L372.55,90.06 L373.22,89.16 L373.88,88.28 L374.54,87.41 L375.21,86.56 L375.87,85.72 L376.54,84.90 L377.20,84.08 L377.86,83.29 L378.53,82.50 L379.19,81.73 L379.85,80.97 L380.52,80.22 L381.18,79.49 L381.85,78.77 L382.51,78.05 L383.17,77.35 L383.84,76.67 L384.50,75.99 L385.17,75.32 L385.83,74.67 L386.49,74.02 L387.16,73.39 L387.82,72.76 L388.48,72.15 L389.15,71.54 L389.81,70.95 L390.48,70.36 L391.14,69.78 L391.80,69.21 L392.47,68.65 L393.13,68.09 L393.80,67.55 L394.46,67.01 L395.12,66.48 L395.79,65.96 L396.45,65.44 L397.12,64.93 L397.78,64.43 L398.44,63.93 L399.11,63.44 L399.77,62.95 L400.43,62.47 L401.10,62.00 L401.76,61.53 L402.43,61.07 L403.09,60.61 L403.75,60.15 L404.42,59.70 L405.08,59.25 L405.75,58.81 L406.41,58.37 L407.07,57.93 L407.74,57.50 L408.40,57.07 L409.06,56.64 L409.73,56.22 L410.39,55.79 L411.06,55.37 L411.72,54.95 L412.38,54.54 L413.05,54.12 L413.71,53.70 L414.38,53.29 L415.04,52.87 L415.70,52.46 L416.37,52.05 L417.03,51.63 L417.69,51.22 L418.36,50.81 L419.02,50.39 L419.69,49.98 L420.35,49.57 L421.01,49.16 L421.68,48.75 L422.34,48.35 L423.01,47.94 L423.67,47.54 L424.33,47.14 L425.00,46.73 L425.66,46.34 L426.32,45.94 L426.99,45.55 L427.65,45.15 L428.32,44.77 L428.98,44.38 L429.64,44.00 L430.31,43.61 L430.97,43.24 L431.64,42.86 L432.30,42.49 L432.96,42.12 L433.63,41.76 L434.29,41.40 L434.95,41.04 L435.62,40.69 L436.28,40.34 L436.95,40.00 L437.61,39.66 L438.27,39.32 L438.94,38.99 L439.60,38.67 L440.27,38.35 L440.93,38.03 L441.59,37.72 L442.26,37.42 L442.92,37.12 L443.58,36.82 L444.25,36.54 L444.91,36.25 L445.58,35.98 L446.24,35.71 L446.90,35.45 L447.57,35.19 L448.23,34.94 L448.90,34.69 L449.56,34.46 L450.22,34.23 L450.89,34.01 L451.55,33.79 L452.21,33.58 L452.88,33.38 L453.54,33.19 L454.21,33.00 L454.87,32.83 L455.53,32.66 L456.20,32.50 L456.86,32.34 L457.53,32.20 L458.19,32.06 L458.85,31.94 L459.52,31.82 L460.18,31.71 L460.84,31.61 L461.51,31.52 L462.17,31.44 L462.84,31.37 L463.50,31.30 L465.10,31.70 L466.80,32.60 L467.80,34.20 L468.30,38.10 L468.40,191.00" fill="none" stroke="#262626" stroke-width="1.10" stroke-linejoin="round"/>
<line x1="312.60" y1="9.20" x2="537.60" y2="9.20" stroke="#555" stroke-width="1.30"/>
<line x1="312.60" y1="191.00" x2="537.60" y2="191.00" stroke="#444" stroke-width="1.40"/>
<line x1="312.60" y1="8.60" x2="312.60" y2="191.70" stroke="#6a6a6a" stroke-width="1.70"/>
<line x1="537.60" y1="8.60" x2="537.60" y2="191.70" stroke="#6a6a6a" stroke-width="1.70"/>
<text x="312.60" y="200.80" font-size="8.60" text-anchor="middle" font-weight="normal" fill="#1e1e1e" textLength="10.29" lengthAdjust="spacingAndGlyphs">0.0</text>
<line x1="323.85" y1="191.00" x2="323.85" y2="189.40" stroke="#333" stroke-width="1.00"/>
<line x1="335.10" y1="191.00" x2="335.10" y2="188.00" stroke="#333" stroke-width="1.00"/>
<text x="335.10" y="200.80" font-size="8.60" text-anchor="middle" font-weight="normal" fill="#1e1e1e" textLength="10.29" lengthAdjust="spacingAndGlyphs">0.5</text>
<line x1="346.35" y1="191.00" x2="346.35" y2="189.40" stroke="#333" stroke-width="1.00"/>
<line x1="357.60" y1="191.00" x2="357.60" y2="188.00" stroke="#333" stroke-width="1.00"/>
<text x="357.60" y="200.80" font-size="8.60" text-anchor="middle" font-weight="normal" fill="#1e1e1e" textLength="10.29" lengthAdjust="spacingAndGlyphs">1.0</text>
<line x1="368.85" y1="191.00" x2="368.85" y2="189.40" stroke="#333" stroke-width="1.00"/>
<line x1="380.10" y1="191.00" x2="380.10" y2="188.00" stroke="#333" stroke-width="1.00"/>
<text x="380.10" y="200.80" font-size="8.60" text-anchor="middle" font-weight="normal" fill="#1e1e1e" textLength="10.29" lengthAdjust="spacingAndGlyphs">1.5</text>
<line x1="391.35" y1="191.00" x2="391.35" y2="189.40" stroke="#333" stroke-width="1.00"/>
<line x1="402.60" y1="191.00" x2="402.60" y2="188.00" stroke="#333" stroke-width="1.00"/>
<text x="402.60" y="200.80" font-size="8.60" text-anchor="middle" font-weight="normal" fill="#1e1e1e" textLength="10.29" lengthAdjust="spacingAndGlyphs">2.0</text>
<line x1="413.85" y1="191.00" x2="413.85" y2="189.40" stroke="#333" stroke-width="1.00"/>
<line x1="425.10" y1="191.00" x2="425.10" y2="188.00" stroke="#333" stroke-width="1.00"/>
<text x="425.10" y="200.80" font-size="8.60" text-anchor="middle" font-weight="normal" fill="#1e1e1e" textLength="10.29" lengthAdjust="spacingAndGlyphs">2.5</text>
<line x1="436.35" y1="191.00" x2="436.35" y2="189.40" stroke="#333" stroke-width="1.00"/>
<line x1="447.60" y1="191.00" x2="447.60" y2="188.00" stroke="#333" stroke-width="1.00"/>
<text x="447.60" y="200.80" font-size="8.60" text-anchor="middle" font-weight="normal" fill="#1e1e1e" textLength="10.29" lengthAdjust="spacingAndGlyphs">3.0</text>
<line x1="458.85" y1="191.00" x2="458.85" y2="189.40" stroke="#333" stroke-width="1.00"/>
<line x1="470.10" y1="191.00" x2="470.10" y2="188.00" stroke="#333" stroke-width="1.00"/>
<text x="470.10" y="200.80" font-size="8.60" text-anchor="middle" font-weight="normal" fill="#1e1e1e" textLength="10.29" lengthAdjust="spacingAndGlyphs">3.5</text>
<line x1="481.35" y1="191.00" x2="481.35" y2="189.40" stroke="#333" stroke-width="1.00"/>
<line x1="492.60" y1="191.00" x2="492.60" y2="188.00" stroke="#333" stroke-width="1.00"/>
<text x="492.60" y="200.80" font-size="8.60" text-anchor="middle" font-weight="normal" fill="#1e1e1e" textLength="10.29" lengthAdjust="spacingAndGlyphs">4.0</text>
<line x1="503.85" y1="191.00" x2="503.85" y2="189.40" stroke="#333" stroke-width="1.00"/>
<line x1="515.10" y1="191.00" x2="515.10" y2="188.00" stroke="#333" stroke-width="1.00"/>
<text x="515.10" y="200.80" font-size="8.60" text-anchor="middle" font-weight="normal" fill="#1e1e1e" textLength="10.29" lengthAdjust="spacingAndGlyphs">4.5</text>
<line x1="526.35" y1="191.00" x2="526.35" y2="189.40" stroke="#333" stroke-width="1.00"/>
<text x="537.60" y="200.80" font-size="8.60" text-anchor="middle" font-weight="normal" fill="#1e1e1e" textLength="10.29" lengthAdjust="spacingAndGlyphs">5.0</text>
<text x="309.00" y="193.60" font-size="8.60" text-anchor="end" font-weight="normal" fill="#1e1e1e" textLength="4.11" lengthAdjust="spacingAndGlyphs">0</text>
<line x1="312.60" y1="182.74" x2="314.20" y2="182.74" stroke="#333" stroke-width="1.00"/>
<line x1="312.60" y1="174.47" x2="315.60" y2="174.47" stroke="#333" stroke-width="1.00"/>
<text x="309.00" y="177.07" font-size="8.60" text-anchor="end" font-weight="normal" fill="#1e1e1e" textLength="4.11" lengthAdjust="spacingAndGlyphs">5</text>
<line x1="312.60" y1="166.21" x2="314.20" y2="166.21" stroke="#333" stroke-width="1.00"/>
<line x1="312.60" y1="157.95" x2="315.60" y2="157.95" stroke="#333" stroke-width="1.00"/>
<text x="309.00" y="160.55" font-size="8.60" text-anchor="end" font-weight="normal" fill="#1e1e1e" textLength="8.23" lengthAdjust="spacingAndGlyphs">10</text>
<line x1="312.60" y1="149.69" x2="314.20" y2="149.69" stroke="#333" stroke-width="1.00"/>
<line x1="312.60" y1="141.43" x2="315.60" y2="141.43" stroke="#333" stroke-width="1.00"/>
<text x="309.00" y="144.03" font-size="8.60" text-anchor="end" font-weight="normal" fill="#1e1e1e" textLength="8.23" lengthAdjust="spacingAndGlyphs">15</text>
<line x1="312.60" y1="133.16" x2="314.20" y2="133.16" stroke="#333" stroke-width="1.00"/>
<line x1="312.60" y1="124.90" x2="315.60" y2="124.90" stroke="#333" stroke-width="1.00"/>
<text x="309.00" y="127.50" font-size="8.60" text-anchor="end" font-weight="normal" fill="#1e1e1e" textLength="8.23" lengthAdjust="spacingAndGlyphs">20</text>
<line x1="312.60" y1="116.64" x2="314.20" y2="116.64" stroke="#333" stroke-width="1.00"/>
<line x1="312.60" y1="108.38" x2="315.60" y2="108.38" stroke="#333" stroke-width="1.00"/>
<text x="309.00" y="110.97" font-size="8.60" text-anchor="end" font-weight="normal" fill="#1e1e1e" textLength="8.23" lengthAdjust="spacingAndGlyphs">25</text>
<line x1="312.60" y1="100.11" x2="314.20" y2="100.11" stroke="#333" stroke-width="1.00"/>
<line x1="312.60" y1="91.85" x2="315.60" y2="91.85" stroke="#333" stroke-width="1.00"/>
<text x="309.00" y="94.45" font-size="8.60" text-anchor="end" font-weight="normal" fill="#1e1e1e" textLength="8.23" lengthAdjust="spacingAndGlyphs">30</text>
<line x1="312.60" y1="83.59" x2="314.20" y2="83.59" stroke="#333" stroke-width="1.00"/>
<line x1="312.60" y1="75.32" x2="315.60" y2="75.32" stroke="#333" stroke-width="1.00"/>
<text x="309.00" y="77.92" font-size="8.60" text-anchor="end" font-weight="normal" fill="#1e1e1e" textLength="8.23" lengthAdjust="spacingAndGlyphs">35</text>
<line x1="312.60" y1="67.06" x2="314.20" y2="67.06" stroke="#333" stroke-width="1.00"/>
<line x1="312.60" y1="58.80" x2="315.60" y2="58.80" stroke="#333" stroke-width="1.00"/>
<text x="309.00" y="61.40" font-size="8.60" text-anchor="end" font-weight="normal" fill="#1e1e1e" textLength="8.23" lengthAdjust="spacingAndGlyphs">40</text>
<line x1="312.60" y1="50.54" x2="314.20" y2="50.54" stroke="#333" stroke-width="1.00"/>
<line x1="312.60" y1="42.28" x2="315.60" y2="42.28" stroke="#333" stroke-width="1.00"/>
<text x="309.00" y="44.88" font-size="8.60" text-anchor="end" font-weight="normal" fill="#1e1e1e" textLength="8.23" lengthAdjust="spacingAndGlyphs">45</text>
<line x1="312.60" y1="34.01" x2="314.20" y2="34.01" stroke="#333" stroke-width="1.00"/>
<line x1="312.60" y1="25.75" x2="315.60" y2="25.75" stroke="#333" stroke-width="1.00"/>
<text x="309.00" y="28.35" font-size="8.60" text-anchor="end" font-weight="normal" fill="#1e1e1e" textLength="8.23" lengthAdjust="spacingAndGlyphs">50</text>
<line x1="312.60" y1="17.49" x2="314.20" y2="17.49" stroke="#333" stroke-width="1.00"/>
<line x1="312.60" y1="9.22" x2="315.60" y2="9.22" stroke="#333" stroke-width="1.00"/>
<text x="309.00" y="11.82" font-size="8.60" text-anchor="end" font-weight="normal" fill="#1e1e1e" textLength="8.23" lengthAdjust="spacingAndGlyphs">55</text>
<text x="278.80" y="11.60" font-size="12.00" text-anchor="start" font-weight="bold" fill="#111" textLength="13.70" lengthAdjust="spacingAndGlyphs">(b)</text>
<text transform="translate(291.00,141.40) rotate(-90)" font-size="9.00" font-weight="bold" fill="#111111" textLength="94.00" lengthAdjust="spacingAndGlyphs">Flexular Stress (MPa)</text>
<text x="403.60" y="215.80" font-size="9.30" text-anchor="start" font-weight="bold" fill="#111" textLength="43.30" lengthAdjust="spacingAndGlyphs">Strain (%)</text>
<defs><pattern id="hd" width="2.6" height="2.6" patternUnits="userSpaceOnUse" patternTransform="rotate(45)"><rect width="2.6" height="2.6" fill="#6f6f6f"/><rect width="0.9" height="2.6" fill="#5c5c5c"/><rect width="2.6" height="0.9" fill="#5c5c5c"/></pattern><pattern id="hl" width="2.6" height="2.6" patternUnits="userSpaceOnUse" patternTransform="rotate(45)"><rect width="2.6" height="2.6" fill="#c6c6c6"/><rect width="0.9" height="2.6" fill="#a4a4a4"/><rect width="2.6" height="0.9" fill="#a4a4a4"/></pattern></defs>
<rect x="43.66" y="258.35" width="22.65" height="141.85" fill="url(#hd)" stroke="#3a3a3a" stroke-width="0.8"/>
<rect x="66.31" y="385.72" width="22.65" height="14.48" fill="url(#hl)" stroke="#555" stroke-width="0.8"/>
<line x1="54.99" y1="245.54" x2="54.99" y2="272.02" stroke="#3a3a3a" stroke-width="0.60"/>
<line x1="53.49" y1="245.54" x2="56.49" y2="245.54" stroke="#3a3a3a" stroke-width="0.60"/>
<line x1="53.49" y1="272.02" x2="56.49" y2="272.02" stroke="#3a3a3a" stroke-width="0.60"/>
<line x1="77.64" y1="382.43" x2="77.64" y2="388.32" stroke="#3a3a3a" stroke-width="0.60"/>
<line x1="76.14" y1="382.43" x2="79.14" y2="382.43" stroke="#3a3a3a" stroke-width="0.60"/>
<line x1="76.14" y1="388.32" x2="79.14" y2="388.32" stroke="#3a3a3a" stroke-width="0.60"/>
<line x1="66.31" y1="400.20" x2="66.31" y2="403.20" stroke="#333" stroke-width="1.00"/>
<rect x="100.29" y="311.33" width="22.65" height="88.87" fill="url(#hd)" stroke="#3a3a3a" stroke-width="0.8"/>
<rect x="122.94" y="390.63" width="22.65" height="9.57" fill="url(#hl)" stroke="#555" stroke-width="0.8"/>
<line x1="111.61" y1="298.09" x2="111.61" y2="324.58" stroke="#3a3a3a" stroke-width="0.60"/>
<line x1="110.11" y1="298.09" x2="113.11" y2="298.09" stroke="#3a3a3a" stroke-width="0.60"/>
<line x1="110.11" y1="324.58" x2="113.11" y2="324.58" stroke="#3a3a3a" stroke-width="0.60"/>
<line x1="134.26" y1="389.09" x2="134.26" y2="392.08" stroke="#3a3a3a" stroke-width="0.60"/>
<line x1="132.76" y1="389.09" x2="135.76" y2="389.09" stroke="#3a3a3a" stroke-width="0.60"/>
<line x1="132.76" y1="392.08" x2="135.76" y2="392.08" stroke="#3a3a3a" stroke-width="0.60"/>
<line x1="122.94" y1="400.20" x2="122.94" y2="403.20" stroke="#333" stroke-width="1.00"/>
<rect x="156.91" y="312.19" width="22.65" height="88.01" fill="url(#hd)" stroke="#3a3a3a" stroke-width="0.8"/>
<rect x="179.56" y="391.83" width="22.65" height="8.37" fill="url(#hl)" stroke="#555" stroke-width="0.8"/>
<line x1="168.24" y1="310.69" x2="168.24" y2="313.68" stroke="#3a3a3a" stroke-width="0.60"/>
<line x1="166.74" y1="310.69" x2="169.74" y2="310.69" stroke="#3a3a3a" stroke-width="0.60"/>
<line x1="166.74" y1="313.68" x2="169.74" y2="313.68" stroke="#3a3a3a" stroke-width="0.60"/>
<line x1="190.89" y1="389.52" x2="190.89" y2="393.79" stroke="#3a3a3a" stroke-width="0.60"/>
<line x1="189.39" y1="389.52" x2="192.39" y2="389.52" stroke="#3a3a3a" stroke-width="0.60"/>
<line x1="189.39" y1="393.79" x2="192.39" y2="393.79" stroke="#3a3a3a" stroke-width="0.60"/>
<line x1="179.56" y1="400.20" x2="179.56" y2="403.20" stroke="#333" stroke-width="1.00"/>
<rect x="213.54" y="314.32" width="22.65" height="85.88" fill="url(#hd)" stroke="#3a3a3a" stroke-width="0.8"/>
<rect x="236.19" y="393.11" width="22.65" height="7.09" fill="url(#hl)" stroke="#555" stroke-width="0.8"/>
<line x1="224.86" y1="298.09" x2="224.86" y2="330.13" stroke="#3a3a3a" stroke-width="0.60"/>
<line x1="223.36" y1="298.09" x2="226.36" y2="298.09" stroke="#3a3a3a" stroke-width="0.60"/>
<line x1="223.36" y1="330.13" x2="226.36" y2="330.13" stroke="#3a3a3a" stroke-width="0.60"/>
<line x1="247.51" y1="392.72" x2="247.51" y2="393.49" stroke="#3a3a3a" stroke-width="0.60"/>
<line x1="246.01" y1="392.72" x2="249.01" y2="392.72" stroke="#3a3a3a" stroke-width="0.60"/>
<line x1="246.01" y1="393.49" x2="249.01" y2="393.49" stroke="#3a3a3a" stroke-width="0.60"/>
<line x1="236.19" y1="400.20" x2="236.19" y2="403.20" stroke="#333" stroke-width="1.00"/>
<line x1="34.50" y1="229.30" x2="264.50" y2="229.30" stroke="#222" stroke-width="1.20"/>
<line x1="264.50" y1="229.30" x2="264.50" y2="400.20" stroke="#222" stroke-width="1.20"/>
<line x1="38.00" y1="400.20" x2="265.10" y2="400.20" stroke="#222" stroke-width="1.20"/>
<line x1="38.00" y1="228.70" x2="38.00" y2="400.80" stroke="#7a7a7a" stroke-width="1.70"/>
<line x1="34.50" y1="400.20" x2="38.00" y2="400.20" stroke="#444" stroke-width="1.00"/>
<text x="32.20" y="402.40" font-size="8.10" text-anchor="end" font-weight="normal" fill="#1e1e1e" textLength="3.78" lengthAdjust="spacingAndGlyphs">0</text>
<line x1="36.00" y1="389.52" x2="38.00" y2="389.52" stroke="#444" stroke-width="1.00"/>
<line x1="34.50" y1="378.84" x2="38.00" y2="378.84" stroke="#444" stroke-width="1.00"/>
<text x="32.20" y="381.04" font-size="8.10" text-anchor="end" font-weight="normal" fill="#1e1e1e" textLength="3.78" lengthAdjust="spacingAndGlyphs">5</text>
<line x1="36.00" y1="368.16" x2="38.00" y2="368.16" stroke="#444" stroke-width="1.00"/>
<line x1="34.50" y1="357.48" x2="38.00" y2="357.48" stroke="#444" stroke-width="1.00"/>
<text x="32.20" y="359.68" font-size="8.10" text-anchor="end" font-weight="normal" fill="#1e1e1e" textLength="7.56" lengthAdjust="spacingAndGlyphs">10</text>
<line x1="36.00" y1="346.79" x2="38.00" y2="346.79" stroke="#444" stroke-width="1.00"/>
<line x1="34.50" y1="336.11" x2="38.00" y2="336.11" stroke="#444" stroke-width="1.00"/>
<text x="32.20" y="338.31" font-size="8.10" text-anchor="end" font-weight="normal" fill="#1e1e1e" textLength="7.56" lengthAdjust="spacingAndGlyphs">15</text>
<line x1="36.00" y1="325.43" x2="38.00" y2="325.43" stroke="#444" stroke-width="1.00"/>
<line x1="34.50" y1="314.75" x2="38.00" y2="314.75" stroke="#444" stroke-width="1.00"/>
<text x="32.20" y="316.95" font-size="8.10" text-anchor="end" font-weight="normal" fill="#1e1e1e" textLength="7.56" lengthAdjust="spacingAndGlyphs">20</text>
<line x1="36.00" y1="304.07" x2="38.00" y2="304.07" stroke="#444" stroke-width="1.00"/>
<line x1="34.50" y1="293.39" x2="38.00" y2="293.39" stroke="#444" stroke-width="1.00"/>
<text x="32.20" y="295.59" font-size="8.10" text-anchor="end" font-weight="normal" fill="#1e1e1e" textLength="7.56" lengthAdjust="spacingAndGlyphs">25</text>
<line x1="36.00" y1="282.71" x2="38.00" y2="282.71" stroke="#444" stroke-width="1.00"/>
<line x1="34.50" y1="272.02" x2="38.00" y2="272.02" stroke="#444" stroke-width="1.00"/>
<text x="32.20" y="274.22" font-size="8.10" text-anchor="end" font-weight="normal" fill="#1e1e1e" textLength="7.56" lengthAdjust="spacingAndGlyphs">30</text>
<line x1="36.00" y1="261.34" x2="38.00" y2="261.34" stroke="#444" stroke-width="1.00"/>
<line x1="34.50" y1="250.66" x2="38.00" y2="250.66" stroke="#444" stroke-width="1.00"/>
<text x="32.20" y="252.86" font-size="8.10" text-anchor="end" font-weight="normal" fill="#1e1e1e" textLength="7.56" lengthAdjust="spacingAndGlyphs">35</text>
<line x1="36.00" y1="239.98" x2="38.00" y2="239.98" stroke="#444" stroke-width="1.00"/>
<text x="32.20" y="231.50" font-size="8.10" text-anchor="end" font-weight="normal" fill="#1e1e1e" textLength="7.56" lengthAdjust="spacingAndGlyphs">40</text>
<rect x="219.3" y="231.9" width="13.8" height="6.3" fill="url(#hd)" stroke="#3a3a3a" stroke-width="0.8"/>
<rect x="219.3" y="241.0" width="13.8" height="6.6" fill="url(#hl)" stroke="#555" stroke-width="0.8"/>
<text x="235.10" y="237.60" font-size="6.60" text-anchor="start" font-weight="normal" fill="#222" textLength="26.20" lengthAdjust="spacingAndGlyphs">Unotched</text>
<text x="235.10" y="246.50" font-size="6.60" text-anchor="start" font-weight="normal" fill="#222" textLength="22.90" lengthAdjust="spacingAndGlyphs">Notched</text>
<text x="5.20" y="232.00" font-size="12.00" text-anchor="start" font-weight="bold" fill="#111" textLength="11.60" lengthAdjust="spacingAndGlyphs">(c)</text>
<text transform="translate(15.3,393.3) rotate(-90)" font-size="9.6" font-weight="bold" fill="#111" textLength="142.8" lengthAdjust="spacingAndGlyphs">Charpy Impact Strenght (kJ/m<tspan font-size="6" dy="-3.2">2</tspan><tspan dy="3.2">)</tspan></text>
<text transform="translate(69.51,410.80) rotate(-45)" font-size="8" font-weight="bold" fill="#111" text-anchor="end" textLength="28.00" lengthAdjust="spacingAndGlyphs">PHB neat</text>
<text transform="translate(126.14,410.80) rotate(-45)" font-size="8" font-weight="bold" fill="#111" text-anchor="end" textLength="43.70" lengthAdjust="spacingAndGlyphs">PHB/PEG/COP</text>
<text transform="translate(182.76,410.80) rotate(-45)" font-size="8" font-weight="bold" fill="#111" text-anchor="end" textLength="75.50" lengthAdjust="spacingAndGlyphs">PHB/PEG/COP/0.5%NFC</text>
<text transform="translate(239.39,410.80) rotate(-45)" font-size="8" font-weight="bold" fill="#111" text-anchor="end" textLength="68.50" lengthAdjust="spacingAndGlyphs">PHB/PEG/COP/1%NFC</text>
<rect x="317.73" y="241.00" width="46.62" height="158.80" fill="#00817f" stroke="#1d3f3f" stroke-width="0.9"/>
<line x1="341.04" y1="238.40" x2="341.04" y2="244.20" stroke="#2a2a2a" stroke-width="0.70"/>
<line x1="339.54" y1="238.40" x2="342.54" y2="238.40" stroke="#2a2a2a" stroke-width="0.70"/>
<line x1="339.54" y1="244.20" x2="342.54" y2="244.20" stroke="#2a2a2a" stroke-width="0.70"/>
<line x1="341.04" y1="399.80" x2="341.04" y2="402.80" stroke="#555" stroke-width="0.90"/>
<rect x="376.00" y="267.60" width="46.62" height="132.20" fill="#00817f" stroke="#1d3f3f" stroke-width="0.9"/>
<line x1="399.31" y1="257.30" x2="399.31" y2="278.20" stroke="#2a2a2a" stroke-width="0.70"/>
<line x1="397.81" y1="257.30" x2="400.81" y2="257.30" stroke="#2a2a2a" stroke-width="0.70"/>
<line x1="397.81" y1="278.20" x2="400.81" y2="278.20" stroke="#2a2a2a" stroke-width="0.70"/>
<line x1="399.31" y1="399.80" x2="399.31" y2="402.80" stroke="#555" stroke-width="0.90"/>
<rect x="434.28" y="262.00" width="46.62" height="137.80" fill="#00817f" stroke="#1d3f3f" stroke-width="0.9"/>
<line x1="457.59" y1="258.60" x2="457.59" y2="264.60" stroke="#2a2a2a" stroke-width="0.70"/>
<line x1="456.09" y1="258.60" x2="459.09" y2="258.60" stroke="#2a2a2a" stroke-width="0.70"/>
<line x1="456.09" y1="264.60" x2="459.09" y2="264.60" stroke="#2a2a2a" stroke-width="0.70"/>
<line x1="457.59" y1="399.80" x2="457.59" y2="402.80" stroke="#555" stroke-width="0.90"/>
<rect x="492.55" y="255.60" width="46.62" height="144.20" fill="#00817f" stroke="#1d3f3f" stroke-width="0.9"/>
<line x1="515.86" y1="251.80" x2="515.86" y2="259.60" stroke="#2a2a2a" stroke-width="0.70"/>
<line x1="514.36" y1="251.80" x2="517.36" y2="251.80" stroke="#2a2a2a" stroke-width="0.70"/>
<line x1="514.36" y1="259.60" x2="517.36" y2="259.60" stroke="#2a2a2a" stroke-width="0.70"/>
<line x1="515.86" y1="399.80" x2="515.86" y2="402.80" stroke="#555" stroke-width="0.90"/>
<rect x="311.90" y="229.00" width="233.10" height="170.80" fill="none" stroke="#767676" stroke-width="1.6"/>
<line x1="311.90" y1="399.80" x2="545.00" y2="399.80" stroke="#333" stroke-width="1.50"/>
<text x="279.80" y="232.50" font-size="12.00" text-anchor="start" font-weight="bold" fill="#111" textLength="14.20" lengthAdjust="spacingAndGlyphs">(d)</text>
<text transform="translate(304.20,341.00) rotate(-90)" font-size="9.00" font-weight="bold" fill="#111111" textLength="41.20" lengthAdjust="spacingAndGlyphs">Hardness</text>
<text transform="translate(341.24,410.80) rotate(-45)" font-size="8" font-weight="bold" fill="#111" text-anchor="end" textLength="28.00" lengthAdjust="spacingAndGlyphs">PHB neat</text>
<text transform="translate(399.51,410.80) rotate(-45)" font-size="8" font-weight="bold" fill="#111" text-anchor="end" textLength="43.70" lengthAdjust="spacingAndGlyphs">PHB/PEG/COP</text>
<text transform="translate(457.79,410.80) rotate(-45)" font-size="8" font-weight="bold" fill="#111" text-anchor="end" textLength="75.50" lengthAdjust="spacingAndGlyphs">PHB/PEG/COP/0.5%NFC</text>
<text transform="translate(516.06,410.80) rotate(-45)" font-size="8" font-weight="bold" fill="#111" text-anchor="end" textLength="68.50" lengthAdjust="spacingAndGlyphs">PHB/PEG/COP/1%NFC</text>
</g>
</svg>
</body></html>
